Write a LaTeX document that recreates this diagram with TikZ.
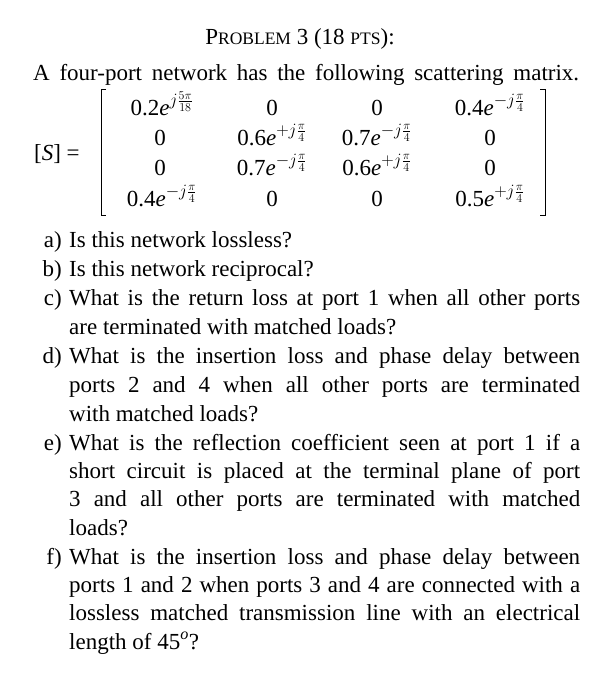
\documentclass[tikz,border=0pt]{standalone}
\usepackage{fontspec}
\setmainfont{Liberation Serif}
\begin{document}
\begin{tikzpicture}[x=1pt,y=-1pt,
  txt/.style={anchor=base west,inner sep=0pt,font=\fontsize{23}{27}\selectfont},
  lab/.style={anchor=base east,inner sep=0pt,font=\fontsize{23}{27}\selectfont},
  ent/.style={anchor=base,inner sep=0pt,font=\fontsize{23}{27}\selectfont},
  brk/.style={line width=0.8pt}]
\useasboundingbox[fill=white] (0,0) rectangle (601,673);
\node[ent] (title) at (300,44) {P{\fontsize{17.5}{20}\selectfont ROBLEM} 3 (18 {\fontsize{17.5}{20}\selectfont PTS}):};
\node[txt] (l0) at (33,80) {\makebox[546pt][s]{A four-port network has the following scattering matrix.}};
\node[txt] (S) at (34,160) {[\textit{S}] =};
% brackets
\draw[brk] (106,89) -- (101,89) -- (101,215) -- (106,215);
\draw[brk] (540,89) -- (545,89) -- (545,215) -- (540,215);
\def\ex#1{\textit{e}$^{\textstyle #1}$}
\def\exs#1{\textit{e}$^{#1}$}
\node[ent] (m11) at (162,115) {0.2\exs{j\frac{5\pi}{18}}};
\node[ent] (m12) at (272,115) {0};
\node[ent] (m13) at (377,115) {0};
\node[ent] (m14) at (490,115) {0.4\exs{-j\frac{\pi}{4}}};
\node[ent] (m21) at (160,145) {0};
\node[ent] (m22) at (272,145) {0.6\exs{+j\frac{\pi}{4}}};
\node[ent] (m23) at (377,145) {0.7\exs{-j\frac{\pi}{4}}};
\node[ent] (m24) at (490,145) {0};
\node[ent] (m31) at (160,175) {0};
\node[ent] (m32) at (272,175) {0.7\exs{-j\frac{\pi}{4}}};
\node[ent] (m33) at (377,175) {0.6\exs{+j\frac{\pi}{4}}};
\node[ent] (m34) at (490,175) {0};
\node[ent] (m41) at (162,206) {0.4\exs{-j\frac{\pi}{4}}};
\node[ent] (m42) at (272,206) {0};
\node[ent] (m43) at (377,206) {0};
\node[ent] (m44) at (490,206) {0.5\exs{+j\frac{\pi}{4}}};
% items
\def\J#1{\makebox[511pt][s]{#1}}
\node[lab] (a) at (62,247) {a)};
\node[txt] (a1) at (69,247) {Is this network lossless?};
\node[lab] (b) at (62,276) {b)};
\node[txt] (b1) at (69,276) {Is this network reciprocal?};
\node[lab] (c) at (62,305) {c)};
\node[txt] (c1) at (69,305) {\J{What is the return loss at port 1 when all other ports}};
\node[txt] (c2) at (69,334) {are terminated with matched loads?};
\node[lab] (d) at (62,363) {d)};
\node[txt] (d1) at (69,363) {\J{What is the insertion loss and phase delay between}};
\node[txt] (d2) at (69,392) {\J{ports 2 and 4 when all other ports are terminated}};
\node[txt] (d3) at (69,421) {with matched loads?};
\node[lab] (e) at (62,450) {e)};
\node[txt] (e1) at (69,450) {\J{What is the reflection coefficient seen at port 1 if a}};
\node[txt] (e2) at (69,478) {\J{short circuit is placed at the terminal plane of port}};
\node[txt] (e3) at (69,506) {\J{3 and all other ports are terminated with matched}};
\node[txt] (e4) at (69,535) {loads?};
\node[lab] (f) at (62,564) {f)};
\node[txt] (f1) at (69,564) {\J{What is the insertion loss and phase delay between}};
\node[txt] (f2) at (69,592) {\J{ports 1 and 2 when ports 3 and 4 are connected with a}};
\node[txt] (f3) at (69,620) {\J{lossless matched transmission line with an electrical}};
\node[txt] (f4) at (69,649) {length of 45\textsuperscript{\textit{o}}?};
\end{tikzpicture}
\end{document}
